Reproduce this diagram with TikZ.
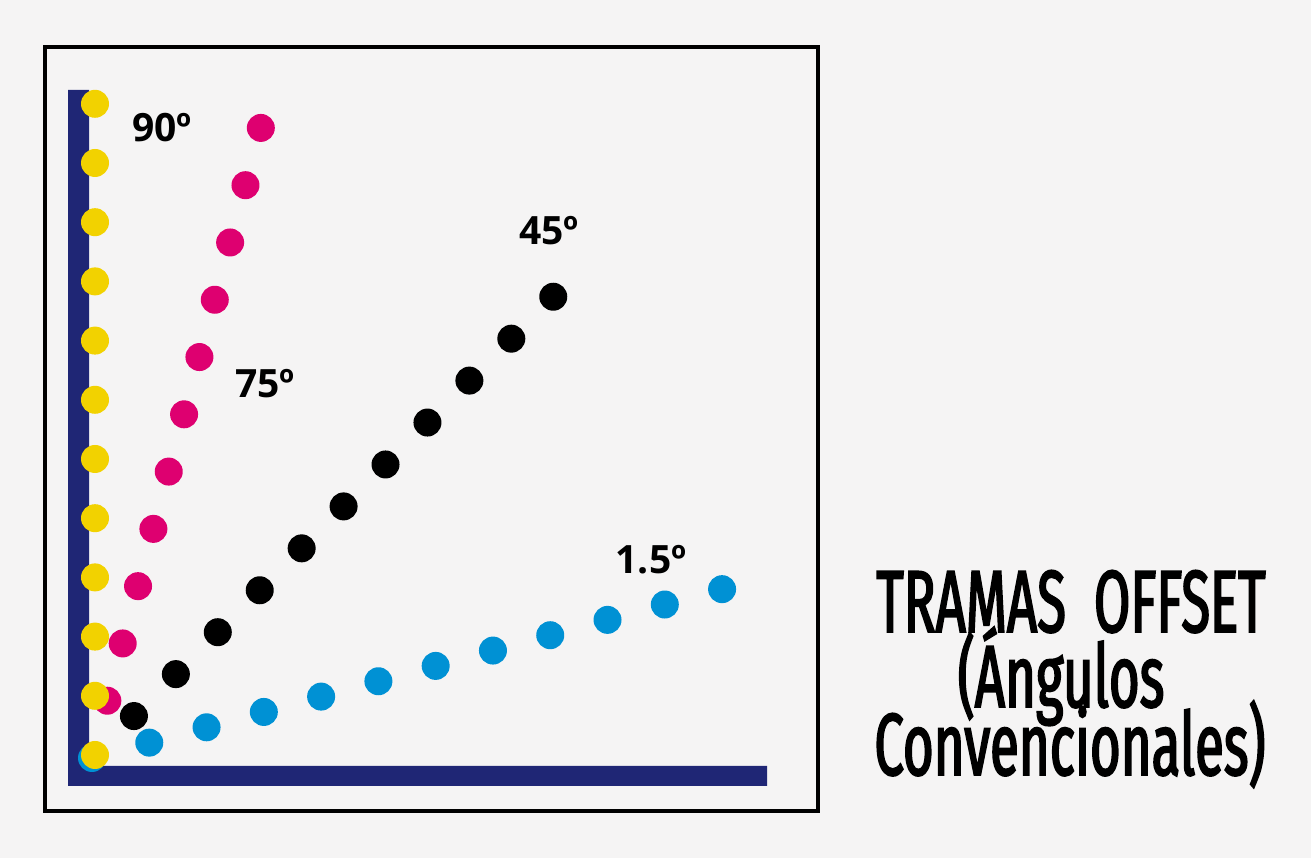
\documentclass[tikz,border=0pt]{standalone}
\usepackage{fontspec}
\setmainfont{Open Sans}
\newfontfamily\titlefont[FakeStretch=0.6, FakeBold=2]{Fira Sans}
\usetikzlibrary{calc}

\definecolor{bgGray}{RGB}{245,244,244}
\definecolor{axisNavy}{RGB}{31,38,117}
\definecolor{dotYellow}{RGB}{242,210,0}
\definecolor{dotMagenta}{RGB}{222,0,112}
\definecolor{dotCyan}{RGB}{0,145,212}

\begin{document}
\begin{tikzpicture}[x=1pt,y=1pt,
    angle label/.style={font=\fontsize{39}{39}\selectfont\bfseries, inner sep=0pt},
    title line/.style={font=\titlefont\fontsize{88}{72}\selectfont, inner sep=0pt, anchor=base}]
  % background and frame
  \fill[bgGray] (0,0) rectangle (1311,858);
  \draw[line width=4pt] (45,47) rectangle (818,811);

  % axes
  \fill[axisNavy] (68,72) -- (767,72) -- (767,92) -- (89,92)
                  -- (89,768) -- (68,768) -- cycle;

  % screen origins
  \coordinate (origin)  at (92,100);
  \coordinate (yOrigin) at (95,103);

  % black 45
  \foreach \i in {1,...,11}
    \fill (origin) ++(45:\i*59.3) circle (14);
  % magenta 75
  \foreach \i in {1,...,11}
    \fill[dotMagenta] (origin) ++(75:\i*59.3) circle (14);
  % cyan 15
  \foreach \i in {0,...,11}
    \fill[dotCyan] (origin) ++(15:\i*59.3) circle (14);
  % yellow 90
  \foreach \i in {0,...,11}
    \fill[dotYellow] (yOrigin) ++(90:\i*59.2) circle (14);

  % angles
  \node[angle label] (lab90) at (162,730) {90º};
  \node[angle label] (lab75) at (265,474) {75º};
  \node[angle label] (lab45) at (549,627) {45º};
  \node[angle label] (lab15) at (651,298) {1.5º};

  % title
  \node[title line] (tramas)  at (1071,226) {TRAMAS\ \ OFFSET};
  \node[title line] (angulos) at (1061,151) {(Ángulos};
  \node[title line] (convenc) at (1070,83)  {Convencionales)};
\end{tikzpicture}
\end{document}
